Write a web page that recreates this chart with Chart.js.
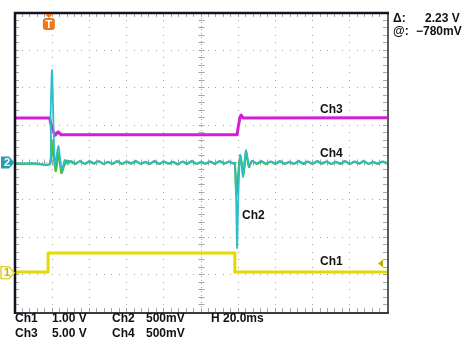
<!DOCTYPE html>
<html><head><meta charset="utf-8">
<script src="https://cdn.jsdelivr.net/npm/chart.js@4.4.1/dist/chart.umd.min.js"></script>
<style>html,body{margin:0;padding:0;background:#fff;overflow:hidden}#wrap{width:474px;height:355px;position:relative}canvas{display:block}</style>
</head><body><div id="wrap"><canvas id="c" width="474" height="355"></canvas></div>
<script>
// time in divisions (H 20.0ms/div), value in divisions
const ch1T = [0, 0.89, 0.89, 5.91, 5.91, 10];
const ch1V = [-2.93, -2.93, -2.42, -2.42, -2.93, -2.93];

const ch3T = [0, 0.93, 0.96, 1.02, 1.08, 1.16, 1.24, 5.97, 6.0, 6.05, 6.08, 6.13, 10];
const ch3V = [1.19, 1.19, 1.05, 0.85, 0.73, 0.82, 0.74, 0.74, 0.95, 1.22, 1.27, 1.19, 1.2];

const ch2T = [0, 0.5, 0.93, 0.955, 0.995, 1.035, 1.07, 1.12, 1.17, 1.21, 1.26, 1.34, 1.42,
  1.5, 1.625, 1.75, 1.875, 2, 2.125, 2.25, 2.375, 2.5, 2.625, 2.75, 2.875,
  3, 3.125, 3.25, 3.375, 3.5, 3.625, 3.75, 3.875, 4, 4.125, 4.25, 4.375,
  4.5, 4.625, 4.75, 4.875, 5, 5.125, 5.25, 5.375, 5.5, 5.625, 5.75, 5.875,
  5.91, 5.94, 5.97, 6.0, 6.05, 6.09, 6.13, 6.17, 6.21, 6.29, 6.37,
  6.5, 6.625, 6.75, 6.875, 7, 7.125, 7.25, 7.375, 7.5, 7.625, 7.75, 7.875,
  8, 8.125, 8.25, 8.375, 8.5, 8.625, 8.75, 8.875, 9, 9.125, 9.25, 9.375,
  9.5, 9.625, 9.75, 9.875, 10];
const ch2V = [-0.03, -0.02, -0.03, 1.2, 2.47, 1.0, -0.12, 0.2, 0.44, 0.1, -0.2, 0.07, -0.04,
  0.04, -0.02, 0.03, -0.03, 0.04, -0.01, 0.03, -0.03, 0.02, -0.02, 0.04, -0.03,
  0.03, -0.01, 0.04, -0.03, 0.02, -0.02, 0.04, -0.03, 0.03, -0.02, 0.02, -0.04,
  0.03, -0.02, 0.04, -0.03, 0.02, -0.02, 0.03, -0.03, 0.04, -0.02, 0.03, -0.01,
  -0.01, -0.74, -2.29, -1.0, 0.2, -0.05, -0.39, 0.0, 0.33, -0.09, 0.04,
  -0.02, 0.04, -0.03, 0.03, -0.02, 0.04, -0.03, 0.02, -0.03, 0.04, -0.02, 0.03,
  -0.03, 0.04, -0.01, 0.03, -0.03, 0.02, -0.02, 0.04, -0.03, 0.03, -0.02, 0.04,
  -0.03, 0.02, -0.02, 0.03, -0.01];

const ch4T = [0, 0.5, 0.94, 0.976, 1.035, 1.10, 1.17, 1.25, 1.32, 1.40,
  1.5, 1.625, 1.75, 1.875, 2, 2.125, 2.25, 2.375, 2.5, 2.625, 2.75, 2.875,
  3, 3.125, 3.25, 3.375, 3.5, 3.625, 3.75, 3.875, 4, 4.125, 4.25, 4.375,
  4.5, 4.625, 4.75, 4.875, 5, 5.125, 5.25, 5.375, 5.5, 5.625, 5.75, 5.875,
  5.91, 5.95, 6.0, 6.06, 6.14, 6.21, 6.29, 6.37,
  6.5, 6.625, 6.75, 6.875, 7, 7.125, 7.25, 7.375, 7.5, 7.625, 7.75, 7.875,
  8, 8.125, 8.25, 8.375, 8.5, 8.625, 8.75, 8.875, 9, 9.125, 9.25, 9.375,
  9.5, 9.625, 9.75, 9.875, 10];
const ch4V = [-0.04, -0.03, -0.04, 0.6, 0.2, -0.23, 0.25, -0.28, -0.09, 0.04,
  0.02, -0.04, 0.04, -0.04, 0.02, -0.03, 0.04, -0.04, 0.01, -0.04, 0.03, -0.04,
  0.02, -0.03, 0.03, -0.04, 0.01, -0.04, 0.03, -0.04, 0.02, -0.03, 0.01, -0.05,
  0.02, -0.04, 0.03, -0.04, 0.01, -0.03, 0.02, -0.04, 0.03, -0.03, 0.02, -0.03,
  -0.02, -0.87, -0.33, 0.2, -0.33, 0.28, -0.12, 0.04,
  -0.04, 0.02, -0.04, 0.02, -0.04, 0.03, -0.04, 0.01, -0.04, 0.03, -0.04, 0.02,
  -0.04, 0.03, -0.03, 0.02, -0.04, 0.01, -0.04, 0.03, -0.04, 0.02, -0.03, 0.03,
  -0.04, 0.01, -0.04, 0.02, -0.03];

const traceLabels = ["Ch1", "Ch2", "Ch3", "Ch4"];
const readoutRow1 = ["Ch1", "1.00 V", "Ch2", "500mV", "H 20.0ms"];
const readoutRow2 = ["Ch3", "5.00 V", "Ch4", "500mV"];
const cursorText = [["\u0394:", "2.23 V"], ["@:", "\u2212780mV"]];

const pts = (t, v) => t.map((x, i) => ({x, y: v[i]}));

const scope = {
  id: 'scope',
  beforeDatasetsDraw(chart) {
    const {ctx, chartArea: a, scales: {x, y}} = chart;
    ctx.save();
    ctx.fillStyle = '#a0a0a0';
    const dot = (px, py) => ctx.fillRect(Math.floor(px), Math.floor(py), 1, 1);
    const minorY = [], minorX = [];
    for (let k = 0; k <= 40; k++) minorY.push(-4 + k * 0.2);
    for (let k = 0; k <= 50; k++) minorX.push(k * 0.2);
    for (let i = 1; i <= 9; i++) { if (i === 5) continue; minorY.forEach(v => dot(x.getPixelForValue(i), y.getPixelForValue(v))); }
    for (let j = -3; j <= 3; j++) { if (j === 0) continue; minorX.forEach(u => dot(x.getPixelForValue(u), y.getPixelForValue(j))); }
    ctx.strokeStyle = '#a6a6a6'; ctx.lineWidth = 1;
    const cx = Math.floor(x.getPixelForValue(5)) + 0.5, cy = Math.floor(y.getPixelForValue(0)) + 0.5;
    ctx.beginPath();
    minorY.forEach(v => { const py = Math.floor(y.getPixelForValue(v)) + 0.5; ctx.moveTo(cx - 3, py); ctx.lineTo(cx + 3, py); });
    minorX.forEach(u => { const px = Math.floor(x.getPixelForValue(u)) + 0.5; ctx.moveTo(px, cy - 3); ctx.lineTo(px, cy + 3); });
    minorX.forEach(u => { const px = Math.floor(x.getPixelForValue(u)) + 0.5; ctx.moveTo(px, a.bottom - 4); ctx.lineTo(px, a.bottom); ctx.moveTo(px, a.top); ctx.lineTo(px, a.top + 4); });
    minorY.forEach(v => { const py = Math.floor(y.getPixelForValue(v)) + 0.5; ctx.moveTo(a.left, py); ctx.lineTo(a.left + 4, py); ctx.moveTo(a.right - 4, py); ctx.lineTo(a.right, py); });
    ctx.stroke();
    for (let k = 0; k < 80; k++) { dot(cx, y.getPixelForValue(-4 + k * 0.1 + 0.05)); }
    for (let k = 0; k < 100; k++) { dot(x.getPixelForValue(k * 0.1 + 0.05), cy); }
    ctx.restore();
  },
  afterDatasetsDraw(chart) {
    const {ctx, chartArea: a, scales: {x, y}} = chart;
    ctx.save();
    // frame
    ctx.lineWidth = 2;
    ctx.strokeStyle = '#5c5c5c';
    ctx.beginPath(); ctx.moveTo(a.right + 1, a.top); ctx.lineTo(a.right + 1, a.bottom + 1); ctx.stroke();
    ctx.strokeStyle = '#3a3a48';
    ctx.beginPath(); ctx.moveTo(a.left, a.bottom + 1); ctx.lineTo(a.right + 2, a.bottom + 1); ctx.stroke();
    ctx.lineWidth = 2.5; ctx.strokeStyle = '#141420';
    ctx.beginPath(); ctx.moveTo(a.left, a.bottom + 2); ctx.lineTo(a.left, a.top); ctx.lineTo(a.right + 2, a.top); ctx.stroke();

    // trigger position marker
    const tx = x.getPixelForValue(0.91);
    ctx.fillStyle = '#f07818';
    ctx.beginPath(); ctx.moveTo(tx - 4, a.top + 1); ctx.lineTo(tx + 4, a.top + 1); ctx.lineTo(tx, a.top + 5); ctx.fill();
    ctx.beginPath(); ctx.roundRect(tx - 6, a.top + 5, 12, 12, 3); ctx.fill();
    ctx.fillStyle = '#fff'; ctx.font = 'bold 11px "Liberation Sans", Arial'; ctx.textAlign = 'center'; ctx.textBaseline = 'middle';
    ctx.fillText('T', tx, a.top + 11.5);

    // channel ground markers
    const tag = (cyv, fill, stroke, txtColor, txt) => {
      const py = y.getPixelForValue(cyv);
      ctx.beginPath();
      ctx.moveTo(1, py - 6); ctx.lineTo(9, py - 6); ctx.lineTo(14.5, py); ctx.lineTo(9, py + 6); ctx.lineTo(1, py + 6); ctx.closePath();
      ctx.fillStyle = fill; ctx.fill();
      if (stroke) { ctx.strokeStyle = stroke; ctx.lineWidth = 1.2; ctx.stroke(); }
      ctx.fillStyle = txtColor; ctx.font = 'bold 11px "Liberation Sans", Arial'; ctx.textAlign = 'center'; ctx.textBaseline = 'middle';
      ctx.fillText(txt, 7, py + 0.5);
    };
    tag(0, '#2a9cac', null, '#ffffff', '2');
    tag(-2.95, '#fffbe6', '#d6c800', '#c8b800', '1');

    // trigger level marker on right
    const ly = y.getPixelForValue(-2.7);
    ctx.fillStyle = '#bcb200';
    ctx.beginPath(); ctx.moveTo(a.right - 9, ly); ctx.lineTo(a.right - 4, ly - 4); ctx.lineTo(a.right - 4, ly + 4); ctx.fill();

    // trace labels
    ctx.fillStyle = '#111'; ctx.font = 'bold 12px "Liberation Sans", Arial'; ctx.textAlign = 'left'; ctx.textBaseline = 'middle';
    ctx.fillText(traceLabels[2], 320, 110);
    ctx.fillText(traceLabels[3], 320, 154);
    ctx.fillText(traceLabels[1], 242, 216);
    ctx.fillText(traceLabels[0], 320, 262);

    // readouts
    const cols = [15, 52, 112, 146, 211];
    readoutRow1.forEach((s, i) => ctx.fillText(s, cols[i], 319));
    readoutRow2.forEach((s, i) => ctx.fillText(s, cols[i], 334));
    ctx.font = 'bold 12px "Liberation Sans", Arial';
    ctx.fillText(cursorText[0][0], 393, 19); ctx.fillText(cursorText[0][1], 425, 19);
    ctx.fillText(cursorText[1][0], 393, 32); ctx.fillText(cursorText[1][1], 416, 32);
    ctx.restore();
  }
};

new Chart(document.getElementById('c'), {
  type: 'line',
  data: {
    datasets: [
      {label: 'Ch2', data: pts(ch2T, ch2V), borderColor: '#2cbccc', borderWidth: 1.8, tension: 0.25},
      {label: 'Ch4', data: pts(ch4T, ch4V), borderColor: '#4cbb36', borderWidth: 2.2, tension: 0.25},
      {label: 'Ch3', data: pts(ch3T, ch3V), borderColor: '#d41ed4', borderWidth: 3},
      {label: 'Ch1', data: pts(ch1T, ch1V), borderColor: '#e4da00', borderWidth: 3}
    ]
  },
  options: {
    responsive: false, animation: false, devicePixelRatio: 1,
    layout: {padding: {left: 15, top: 13, right: 87, bottom: 43}},
    elements: {point: {radius: 0}, line: {tension: 0, borderJoinStyle: 'round'}},
    plugins: {legend: {display: false}, tooltip: {enabled: false}, title: {display: false}},
    scales: {
      x: {type: 'linear', min: 0, max: 10, display: false},
      y: {type: 'linear', min: -4, max: 4, display: false}
    }
  },
  plugins: [scope]
});
</script>
</body></html>
